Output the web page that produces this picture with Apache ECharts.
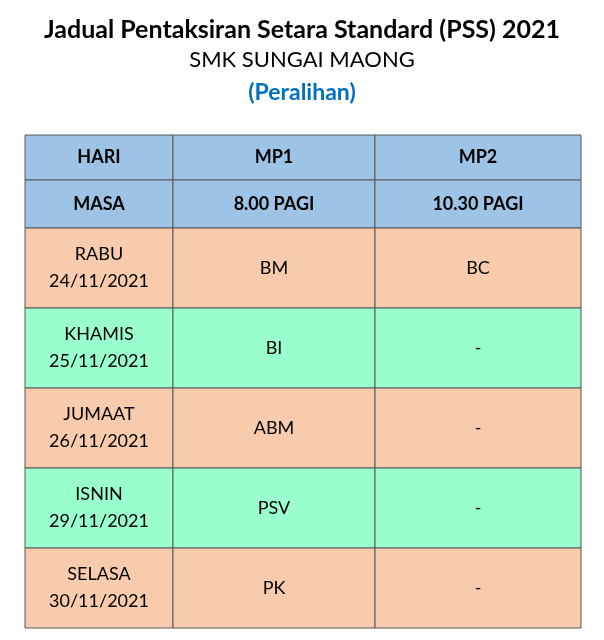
<!DOCTYPE html>
<html><head><meta charset="utf-8">
<script src="https://cdn.jsdelivr.net/npm/echarts@6/dist/echarts.min.js"></script>
<style>html,body{margin:0;background:#fff}#ec{width:604px;height:640px}</style>
</head><body><div id="ec"></div>
<script>
// 表头
var headers = ['HARI', 'MP1', 'MP2'];
var masa = ['MASA', '8.00 PAGI', '10.30 PAGI'];
// 日期 / 科目
var hari = ['RABU\n24/11/2021', 'KHAMIS\n25/11/2021', 'JUMAAT\n26/11/2021', 'ISNIN\n29/11/2021', 'SELASA\n30/11/2021'];
var mp1 = ['BM', 'BI', 'ABM', 'PSV', 'PK'];
var mp2 = ['BC', '-', '-', '-', '-'];

// 布局
var colW = [148, 202, 206];
var rowH = [45, 48, 80, 80, 80, 80, 80];
var colors = { head: '#9dc3e6', odd: '#f8cbad', even: '#99ffcc' };

var cells = [];
headers.forEach(function(t, c) { cells.push([c, 0, t, 'head', true]); });
masa.forEach(function(t, c) { cells.push([c, 1, t, 'head', true]); });
hari.forEach(function(t, r) {
  var k = r % 2 ? 'even' : 'odd';
  cells.push([0, r + 2, t, k, false]);
  cells.push([1, r + 2, mp1[r], k, false]);
  cells.push([2, r + 2, mp2[r], k, false]);
});

function cum(arr, i) { var s = 0; for (var j = 0; j < i; j++) s += arr[j]; return s; }
var totW = cum(colW, colW.length), totH = cum(rowH, rowH.length);

var ec = echarts.init(document.getElementById('ec'));
ec.setOption({
  animation: false,
  grid: { left: 25, right: 23, top: 135, bottom: 12 },
  xAxis: { type: 'value', min: 0, max: totW, show: false },
  yAxis: { type: 'value', min: 0, max: totH, inverse: true, show: false },
  graphic: [
    { type: 'text', left: 'center', top: 17, style: { text: 'Jadual Pentaksiran Setara Standard (PSS) 2021', font: 'bold 25px Lato', fill: '#000' } },
    { type: 'text', left: 'center', top: 49, style: { text: 'SMK SUNGAI MAONG', font: '22px Lato', fill: '#000' } },
    { type: 'text', left: 'center', top: 81, style: { text: '(Peralihan)', font: 'bold 23px Lato', fill: '#0070c0' } }
  ],
  series: [{
    type: 'custom',
    data: cells,
    renderItem: function(params, api) {
      var c = api.value(0), r = api.value(1);
      var d = cells[params.dataIndex];
      var p0 = api.coord([cum(colW, c), cum(rowH, r)]);
      var p1 = api.coord([cum(colW, c + 1), cum(rowH, r + 1)]);
      return {
        type: 'group',
        children: [{
          type: 'rect',
          shape: { x: p0[0], y: p0[1], width: p1[0] - p0[0], height: p1[1] - p0[1] },
          style: { fill: colors[d[3]], stroke: '#595959', lineWidth: 1 }
        }, {
          type: 'text',
          style: {
            text: d[2], x: (p0[0] + p1[0]) / 2, y: (p0[1] + p1[1]) / 2,
            align: 'center', verticalAlign: 'middle', lineHeight: 27,
            font: (d[4] ? 'bold ' : '') + '18px Lato', fill: '#000'
          }
        }]
      };
    }
  }]
});
</script></body></html>
